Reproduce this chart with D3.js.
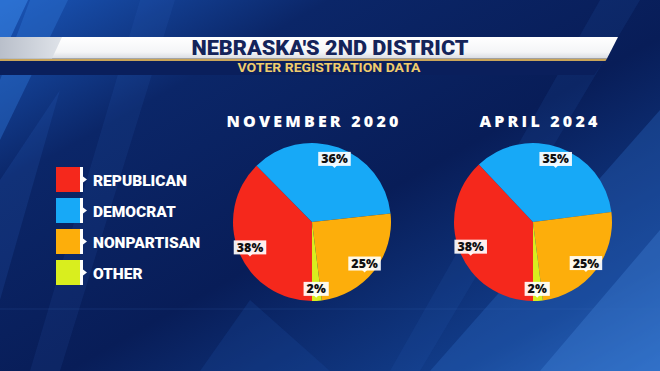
<!DOCTYPE html>
<html>
<head>
<meta charset="utf-8">
<script src="https://cdn.jsdelivr.net/npm/d3@7"></script>
<style>
  html, body { margin: 0; padding: 0; background: #0b2463; }
  svg { display: block; }
</style>
</head>
<body>
<div id="chart"></div>
<script>
// data
var categories = ['REPUBLICAN', 'DEMOCRAT', 'NONPARTISAN', 'OTHER'];
var colors = ['#f5281c', '#17a9f7', '#fdae0b', '#d9ee1e'];
var periods = ['NOVEMBER 2020', 'APRIL 2024'];
var nov2020 = [38, 36, 25, 2];
var apr2024 = [38, 35, 25, 2];
var title = "NEBRASKA'S 2ND DISTRICT";
var subtitle = 'VOTER REGISTRATION DATA';

var svgWidth = 660, svgHeight = 371;

var svg = d3.select('#chart').append('svg')
    .attr('width', svgWidth)
    .attr('height', svgHeight);

var defs = svg.append('defs');

// background gradients
var bg = defs.append('linearGradient').attr('id', 'bg')
    .attr('x1', '0').attr('y1', '0').attr('x2', '1').attr('y2', '1');
bg.append('stop').attr('offset', '0').attr('stop-color', '#1a56b8');
bg.append('stop').attr('offset', '0.25').attr('stop-color', '#0b2668');
bg.append('stop').attr('offset', '0.55').attr('stop-color', '#081d58');
bg.append('stop').attr('offset', '0.85').attr('stop-color', '#123e8c');
bg.append('stop').attr('offset', '1').attr('stop-color', '#2766bd');

var band = defs.append('linearGradient').attr('id', 'band')
    .attr('x1', '0').attr('y1', '0').attr('x2', '0').attr('y2', '1');
band.append('stop').attr('offset', '0').attr('stop-color', '#ffffff');
band.append('stop').attr('offset', '0.7').attr('stop-color', '#f4f5f7');
band.append('stop').attr('offset', '1').attr('stop-color', '#d9dce2');

var bandLeft = defs.append('linearGradient').attr('id', 'bandLeft')
    .attr('x1', '0').attr('y1', '0').attr('x2', '1').attr('y2', '0');
bandLeft.append('stop').attr('offset', '0').attr('stop-color', '#b9bfca');
bandLeft.append('stop').attr('offset', '1').attr('stop-color', '#dfe3e9');

svg.append('rect')
    .attr('width', svgWidth).attr('height', svgHeight)
    .attr('fill', 'url(#bg)');

// diagonal streaks
var streaks = [
    { pts: [[0, 0], [28, 0], [0, 60]], fill: '#3a86e8', op: 0.55 },
    { pts: [[30, 0], [68, 0], [0, 140], [0, 80]], fill: '#2d70d0', op: 0.45 },
    { pts: [[140, 0], [175, 0], [60, 371], [30, 371]], fill: '#3a7ad8', op: 0.10 },
    { pts: [[0, 180], [60, 90], [0, 300]], fill: '#2a62c0', op: 0.18 },
    { pts: [[430, 371], [660, 110], [660, 371]], fill: '#2a66c0', op: 0.35 },
    { pts: [[540, 371], [660, 230], [660, 371]], fill: '#4a8ae0', op: 0.30 },
    { pts: [[600, 0], [640, 0], [420, 371], [390, 371]], fill: '#2a60b8', op: 0.15 },
    { pts: [[200, 371], [250, 300], [330, 371]], fill: '#1a4aa0', op: 0.25 }
];
svg.append('g').selectAll('polygon')
    .data(streaks)
    .enter()
    .append('polygon')
    .attr('points', d => d.pts.map(p => p.join(',')).join(' '))
    .attr('fill', d => d.fill)
    .attr('opacity', d => d.op);

// faint horizontal line near the bottom
svg.append('line')
    .attr('x1', 0).attr('x2', svgWidth)
    .attr('y1', 309).attr('y2', 309)
    .attr('stroke', '#3c6cc0').attr('stroke-opacity', 0.2);

// title bar
var header = svg.append('g');
header.append('polygon')
    .attr('points', '0,61 604,61 594,75 0,75')
    .attr('fill', '#0a1f5c');
header.append('polygon')
    .attr('points', '0,58.5 607,58.5 605.5,61 0,61')
    .attr('fill', '#c9a55a');
header.append('polygon')
    .attr('points', '0,37 618,37 607,58.5 0,58.5')
    .attr('fill', 'url(#band)');
header.append('polygon')
    .attr('points', '0,37 62,37 52,58.5 0,58.5')
    .attr('fill', 'url(#bandLeft)');

header.append('text')
    .attr('x', 330).attr('y', 55)
    .attr('text-anchor', 'middle')
    .attr('textLength', 277)
    .attr('lengthAdjust', 'spacingAndGlyphs')
    .style('font-family', 'Roboto, sans-serif')
    .style('font-weight', 900)
    .style('font-size', '21px')
    .attr('fill', '#14245a')
    .text(title);

header.append('text')
    .attr('x', 329).attr('y', 72)
    .attr('text-anchor', 'middle')
    .attr('textLength', 183)
    .attr('lengthAdjust', 'spacingAndGlyphs')
    .style('font-family', 'Roboto, sans-serif')
    .style('font-weight', 700)
    .style('font-size', '12.5px')
    .attr('fill', '#f0cc6c')
    .text(subtitle);

// legend
var legend = svg.append('g').attr('transform', 'translate(56, 167)');
var item = legend.selectAll('g')
    .data(categories)
    .enter()
    .append('g')
    .attr('transform', (d, i) => `translate(0, ${i * 31})`);

item.append('rect')
    .attr('width', 24).attr('height', 25)
    .attr('fill', (d, i) => colors[i]);
item.append('rect')
    .attr('x', 24).attr('width', 3).attr('height', 25)
    .attr('fill', '#ffffff');
item.append('polygon')
    .attr('points', '27,9.5 31,12.5 27,15.5')
    .attr('fill', '#ffffff');
item.append('text')
    .attr('x', 37).attr('y', 18.5)
    .style('font-family', 'Roboto, sans-serif')
    .style('font-weight', 900)
    .style('font-size', '15.5px')
    .attr('fill', '#ffffff')
    .text(d => d);

// pies
var pieData = [nov2020, apr2024];
var centers = [[312, 222], [533, 222]];
var headCenters = [314, 540];
var radius = 79;

var pie = d3.pie().sort(null)
    .startAngle(Math.PI)
    .endAngle(3 * Math.PI);
var arc = d3.arc().innerRadius(0).outerRadius(radius);
var labelArc = d3.arc().innerRadius(67).outerRadius(67);

pieData.forEach(function (values, k) {
    svg.append('text')
        .attr('x', headCenters[k]).attr('y', 127)
        .attr('text-anchor', 'middle')
        .style('font-family', '"Open Sans", sans-serif')
        .style('font-weight', 800)
        .style('font-size', '16px')
        .style('letter-spacing', '3.2px')
        .attr('fill', '#ffffff')
        .text(periods[k]);

    var g = svg.append('g')
        .attr('transform', `translate(${centers[k][0]}, ${centers[k][1]})`);

    var arcs = pie(values);

    g.selectAll('path')
        .data(arcs)
        .enter()
        .append('path')
        .attr('d', arc)
        .attr('fill', (d, i) => colors[i]);

    var lab = g.selectAll('g.lab')
        .data(arcs)
        .enter()
        .append('g')
        .attr('class', 'lab')
        .attr('transform', d => `translate(${labelArc.centroid(d)})`);

    var txt = lab.append('text')
        .attr('text-anchor', 'middle')
        .attr('y', 4.5)
        .style('font-family', '"Open Sans", sans-serif')
        .style('font-weight', 800)
        .style('font-size', '12.5px')
        .attr('fill', '#111111')
        .text(d => d.value + '%');

    txt.each(function () {
        var w = this.getComputedTextLength() + 6;
        var parent = d3.select(this.parentNode);
        parent.insert('polygon', 'text')
            .attr('points', `-3,6 3,6 0,9`)
            .attr('fill', '#ffffff').attr('opacity', 0.92);
        parent.insert('rect', 'text')
            .attr('x', -w / 2).attr('y', -7)
            .attr('width', w).attr('height', 14)
            .attr('fill', '#ffffff').attr('opacity', 0.92);
    });
});
</script>
</body>
</html>
